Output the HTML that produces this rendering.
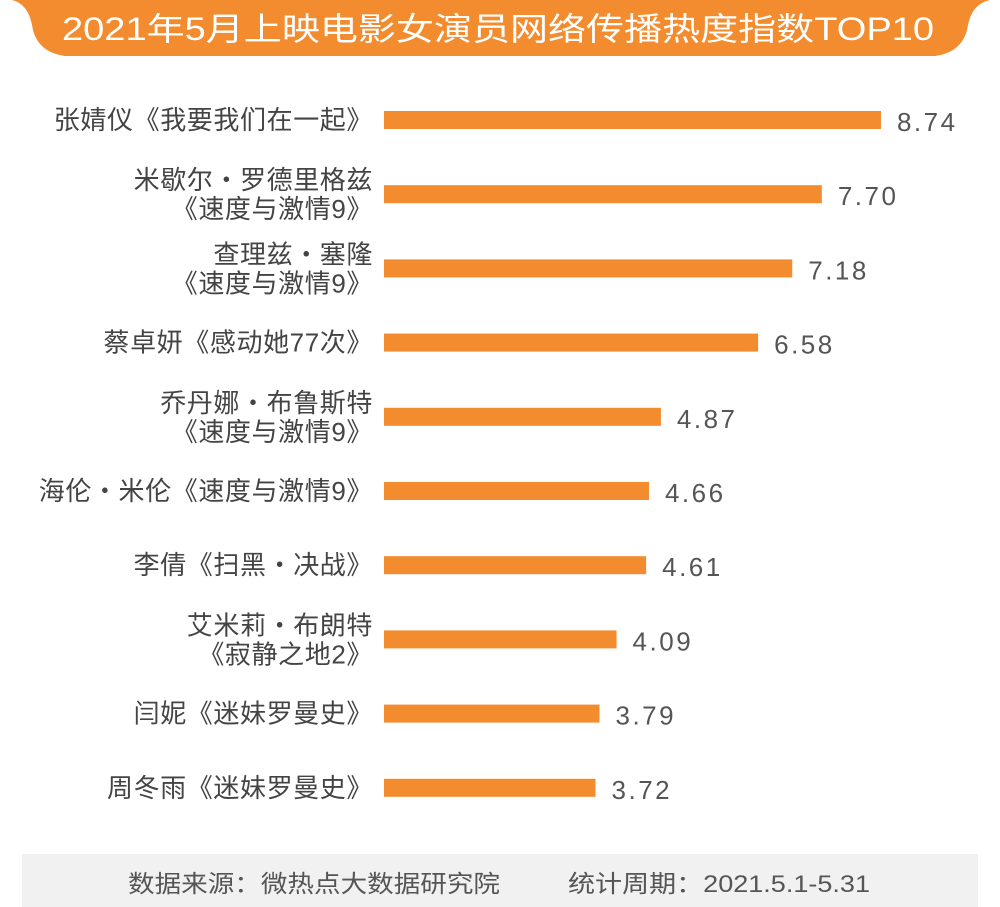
<!DOCTYPE html>
<html><head><meta charset="utf-8"><style>
body{margin:0;width:1000px;height:907px;background:#fff;overflow:hidden;font-family:"Liberation Sans","Noto Sans CJK SC",sans-serif;}
svg{display:block}
</style></head><body>
<svg width="1000" height="907">
<path d="M12,0 Q28,4 32,25 Q36,52 65,56 L935,56 Q964,52 968,25 Q972,4 990,0 Z" fill="#f28c2e"/>
<text x="498" y="40" text-anchor="middle" font-size="32" fill="#fff" textLength="872" lengthAdjust="spacingAndGlyphs">2021年5月上映电影女演员网络传播热度指数TOP10</text>
<g id="bars"></g>
<rect x="22" y="854" width="956" height="53" fill="#f1f1f1"/>
<text x="128" y="892" font-size="24" fill="#555" textLength="372" lengthAdjust="spacingAndGlyphs">数据来源：微热点大数据研究院</text>
<text x="568" y="892" font-size="24" fill="#555" textLength="302" lengthAdjust="spacingAndGlyphs">统计周期：2021.5.1-5.31</text>
</svg>
<script>
const names=[["张婧仪《我要我们在一起》"],["米歇尔・罗德里格兹","《速度与激情9》"],["查理兹・塞隆","《速度与激情9》"],["蔡卓妍《感动她77次》"],["乔丹娜・布鲁斯特","《速度与激情9》"],["海伦・米伦《速度与激情9》"],["李倩《扫黑・决战》"],["艾米莉・布朗特","《寂静之地2》"],["闫妮《迷妹罗曼史》"],["周冬雨《迷妹罗曼史》"]];
const values=[8.74,7.70,7.18,6.58,4.87,4.66,4.61,4.09,3.79,3.72];
const labels=["8.74","7.70","7.18","6.58","4.87","4.66","4.61","4.09","3.79","3.72"];
const ns="http://www.w3.org/2000/svg";
const g=document.getElementById('bars');
const x=v=>384+v*56.86;
const y=i=>120+i*74.2;
values.forEach((v,i)=>{
 const r=document.createElementNS(ns,'rect');
 
 
 r.setAttribute('x',384);r.setAttribute('y',y(i)-9);r.setAttribute('width',x(v)-384);r.setAttribute('height',18);r.setAttribute('fill','#f28c2e');
 g.appendChild(r);
 const t=document.createElementNS(ns,'text');
 
 
 t.setAttribute('x',x(v)+16);t.setAttribute('y',y(i)+11);t.setAttribute('font-size','26');t.setAttribute('fill','#555');t.setAttribute('letter-spacing','2.5');
 t.textContent=labels[i];g.appendChild(t);
 const lines=names[i];
 lines.forEach((s,k)=>{
  const l=document.createElementNS(ns,'text');
  
  
  const yy=lines.length==1?y(i)+9:y(i)-5+k*29;
  l.setAttribute('x',373);l.setAttribute('y',yy);l.setAttribute('text-anchor','end');l.setAttribute('font-size','26');l.setAttribute('letter-spacing','0.6');l.setAttribute('fill','#444');
  l.textContent=s;g.appendChild(l);
 });
});
</script>
</body></html>
